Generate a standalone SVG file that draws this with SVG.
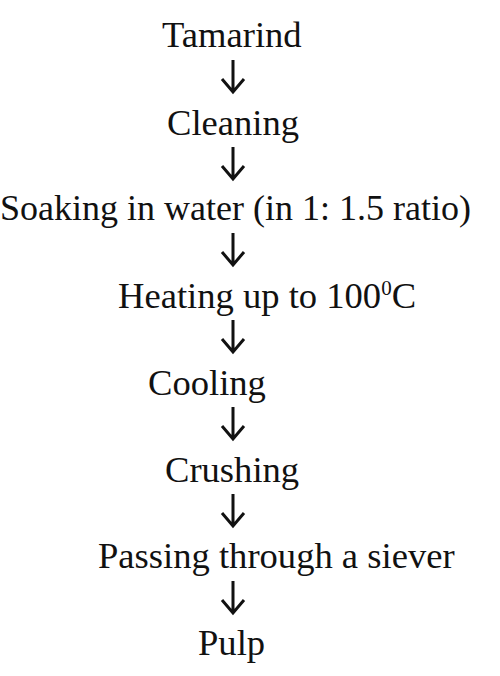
<svg xmlns="http://www.w3.org/2000/svg" width="500" height="676" viewBox="0 0 500 676">
<style>
  text { font-family: "Liberation Serif", "Times New Roman", serif; font-size: 36.6px; fill: #111; }
  .sup { font-size: 21px; }
  .arr { stroke: #111; stroke-width: 3; fill: none; stroke-linecap: butt; stroke-linejoin: miter; }
</style>
<rect width="500" height="676" fill="#fff"/>
<g id="n1"><text x="162" y="47">Tamarind</text></g>
<g id="n2"><text x="167" y="135">Cleaning</text></g>
<g id="n3"><text x="0" y="220" style="font-size:36px">Soaking in water (in 1: 1.5 ratio)</text></g>
<g id="n4"><text x="118" y="308">Heating up to 100<tspan class="sup" dy="-13">0</tspan><tspan dy="13">C</tspan></text></g>
<g id="n5"><text x="148" y="395">Cooling</text></g>
<g id="n6"><text x="165" y="482">Crushing</text></g>
<g id="n7"><text x="98" y="568">Passing through a siever</text></g>
<g id="n8"><text x="198" y="655">Pulp</text></g>
<g id="connectors">
  <path class="arr" d="M233 60 V92 M222 79 L233 92 L244 79"/>
  <path class="arr" d="M233 147 V179 M222 166 L233 179 L244 166"/>
  <path class="arr" d="M233 233 V265 M222 252 L233 265 L244 252"/>
  <path class="arr" d="M233 320 V352 M222 339 L233 352 L244 339"/>
  <path class="arr" d="M233 407 V439 M222 426 L233 439 L244 426"/>
  <path class="arr" d="M233 494 V526 M222 513 L233 526 L244 513"/>
  <path class="arr" d="M233 581 V613 M222 600 L233 613 L244 600"/>
</g>
</svg>
